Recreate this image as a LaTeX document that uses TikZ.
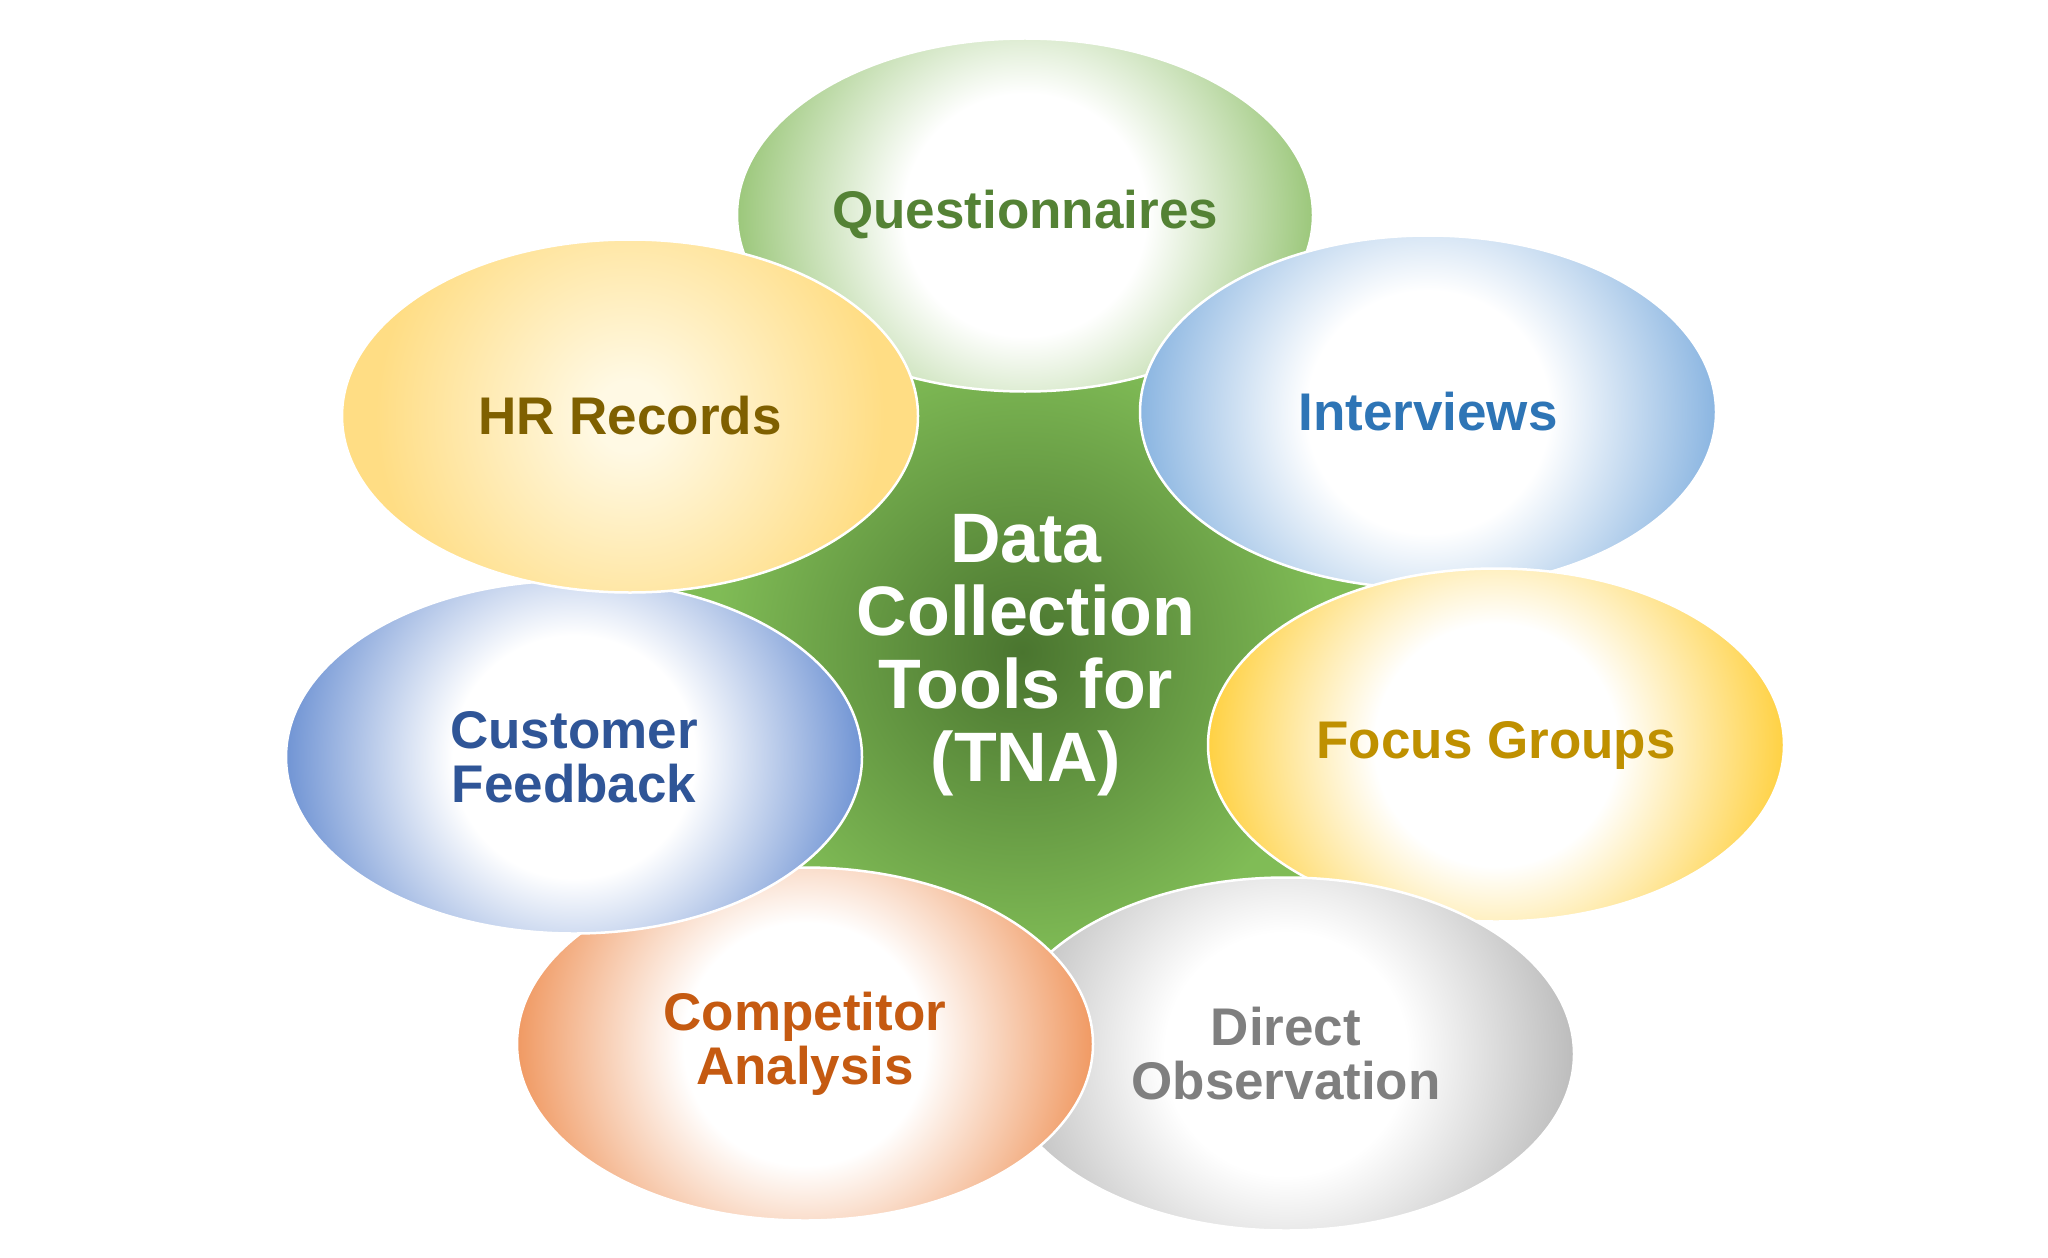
\documentclass[tikz,border=0pt]{standalone}
\usepackage{fontspec}
\setmainfont{Liberation Sans}
\usetikzlibrary{shapes.geometric}
\pgfdeclarelayer{background}
\pgfsetlayers{background,main}

\definecolor{rimq}{RGB}{155,199,122}
\definecolor{rimhr}{RGB}{255,221,132}
\definecolor{inhr}{RGB}{255,249,228}
\definecolor{rimiv}{RGB}{138,181,225}
\definecolor{rimcf}{RGB}{112,148,212}
\definecolor{rimfg}{RGB}{255,209,66}
\definecolor{rimca}{RGB}{240,153,98}
\definecolor{rimdo}{RGB}{188,188,188}
\definecolor{txq}{HTML}{548235}
\definecolor{txhr}{HTML}{7F6000}
\definecolor{txiv}{HTML}{2E75B6}
\definecolor{txcf}{HTML}{2F5597}
\definecolor{txfg}{HTML}{BF9000}
\definecolor{txca}{HTML}{C55A11}
\definecolor{txdo}{HTML}{7F7F7F}
\definecolor{gdark}{RGB}{74,117,47}
\definecolor{glight}{RGB}{128,188,86}

\pgfdeclareradialshading{shq}{\pgfpoint{0bp}{0bp}}{color(0bp)=(white); color(10.5bp)=(white); color(25bp)=(rimq); color(50bp)=(rimq)}
\pgfdeclareradialshading{shhr}{\pgfpoint{0bp}{0bp}}{color(0bp)=(inhr); color(3bp)=(inhr); color(22bp)=(rimhr); color(50bp)=(rimhr)}
\pgfdeclareradialshading{shiv}{\pgfpoint{0bp}{0bp}}{color(0bp)=(white); color(10.5bp)=(white); color(25bp)=(rimiv); color(50bp)=(rimiv)}
\pgfdeclareradialshading{shcf}{\pgfpoint{0bp}{0bp}}{color(0bp)=(white); color(10.5bp)=(white); color(25bp)=(rimcf); color(50bp)=(rimcf)}
\pgfdeclareradialshading{shfg}{\pgfpoint{0bp}{0bp}}{color(0bp)=(white); color(10.5bp)=(white); color(25bp)=(rimfg); color(50bp)=(rimfg)}
\pgfdeclareradialshading{shca}{\pgfpoint{0bp}{0bp}}{color(0bp)=(white); color(10.5bp)=(white); color(25bp)=(rimca); color(50bp)=(rimca)}
\pgfdeclareradialshading{shdo}{\pgfpoint{0bp}{0bp}}{color(0bp)=(white); color(10.5bp)=(white); color(25bp)=(rimdo); color(50bp)=(rimdo)}
\pgfdeclareradialshading{greenglow}{\pgfpoint{0bp}{0bp}}{color(0bp)=(gdark); color(25bp)=(glight); color(50bp)=(glight)}

\tikzset{
  bubble/.style={ellipse, draw=white, line width=1.25pt, inner sep=0pt,
    minimum width=288pt, minimum height=176.5pt, align=center,
    font=\bfseries\fontsize{26.5pt}{27pt}\selectfont,
    path picture={\shade[shading=#1] (path picture bounding box.center) circle [radius=289];}},
  centertext/.style={text=white, align=center,
    font=\bfseries\fontsize{35pt}{36.6pt}\selectfont}
}

\begin{document}
\begin{tikzpicture}[x=0.5pt,y=-0.5pt]
\useasboundingbox (0,0) rectangle (2048,1257);

\node[bubble=shq,  text=txq]  (q)  at (1025,215)  {Questionnaires};
\node[bubble=shiv, text=txiv] (iv) at (1428,412)  {Interviews};
\node[bubble=shfg, text=txfg] (fg) at (1496,745)  {Focus Groups};
\node[bubble=shdo, text=txdo] (do) at (1286,1054) {Direct\\Observation};
\node[bubble=shca, text=txca] (ca) at (805,1044)  {Competitor\\Analysis};
\node[bubble=shcf, text=txcf] (cf) at (574,757)   {Customer\\Feedback};
\node[bubble=shhr, text=txhr] (hr) at (630,416)   {HR Records};

\begin{pgfonlayer}{background}
  \fill[white] (0,0) rectangle (2048,1257);
  \fill[glight] (q.center) -- (iv.center) -- (fg.center) -- (do.center)
     -- (ca.center) -- (cf.center) -- (hr.center) -- cycle;
  \begin{scope}
    \clip (q.center) -- (iv.center) -- (fg.center) -- (do.center)
       -- (ca.center) -- (cf.center) -- (hr.center) -- cycle;
    \shade[shading=greenglow] (1022,652) circle [radius=310];
  \end{scope}
\end{pgfonlayer}

\node[centertext] (ctr) at (1026,655) {Data\\Collection\\Tools for\\(TNA)};
\end{tikzpicture}
\end{document}
